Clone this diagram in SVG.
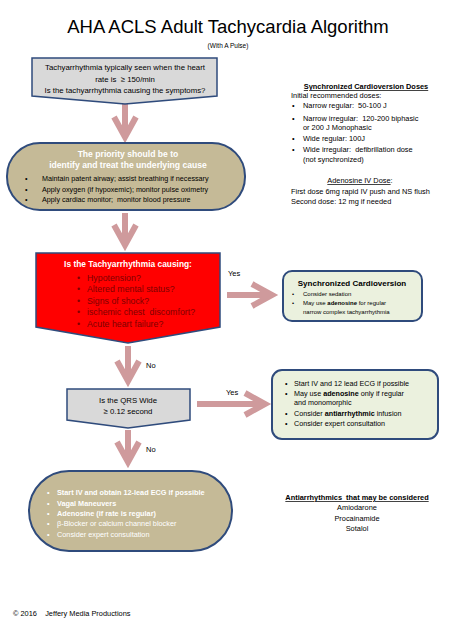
<svg xmlns="http://www.w3.org/2000/svg" width="474" height="632" viewBox="0 0 474 632">
<style>
text{font-family:"Liberation Sans",Arial,sans-serif;fill:#000;white-space:pre}
.c{text-anchor:middle}
.b{font-weight:bold}
.w{fill:#fff}
.dr{fill:#800000}
.u{text-decoration:underline}
.arr{fill:none;stroke:#cf9a9c;stroke-width:6;stroke-linejoin:miter}
.tan{fill:#c5ba97;stroke:#2f4b7c;stroke-width:2}
.grn{fill:#ebf1de;stroke:#2f4b7c;stroke-width:2}
.gry{fill:#d9d9d9;stroke:#2f4b7c;stroke-width:1.5}
</style>
<rect width="474" height="632" fill="#fff"/>
<text x="228" y="33" class="c" font-size="18.5">AHA ACLS Adult Tachycardia Algorithm</text>
<text x="228" y="48" class="c" font-size="6.5">(With A Pulse)</text>

<g id="connectors">
<path class="arr" d="M125 104V137M114 117L125 137L136 117"/>
<path class="arr" d="M125 213V245M114 225L125 245L136 225"/>
<path class="arr" d="M128 346V381M117 361L128 381L139 361"/>
<path class="arr" d="M128 430V462M117 442L128 462L139 442"/>
<path class="arr" d="M227 295H272M252 284L272 295L252 306"/>
<path class="arr" d="M197 404H265M245 393L265 404L245 415"/>
<text x="228" y="276" font-size="7.5">Yes</text>
<text x="146" y="368" font-size="7.5">No</text>
<text x="226" y="395" font-size="7.5">Yes</text>
<text x="146" y="452" font-size="7.5">No</text>
</g>

<g id="start">
<polygon class="gry" points="32,58 217,58 217,96 125,104 32,96"/>
<text x="125" y="70" class="c" font-size="7.8">Tachyarrhythmia typically seen when the heart</text>
<text x="125" y="82" class="c" font-size="7.8" xml:space="preserve">rate is  ≥ 150/min</text>
<text x="125" y="93" class="c" font-size="7.8">Is the tachyarrhythmia causing the symptoms?</text>
</g>

<g id="priority">
<rect class="tan" x="7" y="143" width="238" height="67" rx="33"/>
<text x="128" y="157" class="c b w" font-size="8.6">The priority should be to</text>
<text x="128" y="168" class="c b w" font-size="8.6">identify and treat the underlying cause</text>
<text x="25" y="181" font-size="7.2">•</text><text x="42" y="181" font-size="7.2">Maintain patent airway; assist breathing if necessary</text>
<text x="25" y="192" font-size="7.2">•</text><text x="42" y="192" font-size="7.2">Apply oxygen (if hypoxemic); monitor pulse oximetry</text>
<text x="25" y="202" font-size="7.2">•</text><text x="42" y="202" font-size="7.2" xml:space="preserve">Apply cardiac monitor;  monitor blood pressure</text>
</g>

<g id="causing">
<polygon points="36,253 220,253 220,327 128,343 36,327" fill="#ff0000" stroke="#2f4b7c" stroke-width="1.5"/>
<text x="128" y="267" class="c b w" font-size="8.4">Is the Tachyarrhythmia causing:</text>
<text x="77" y="281" class="dr" font-size="8.8">•</text><text x="87" y="281" class="dr" font-size="8.8">Hypotension?</text>
<text x="77" y="292" class="dr" font-size="8.8">•</text><text x="87" y="292" class="dr" font-size="8.8">Altered mental status?</text>
<text x="77" y="304" class="dr" font-size="8.8">•</text><text x="87" y="304" class="dr" font-size="8.8">Signs of shock?</text>
<text x="77" y="315" class="dr" font-size="8.8">•</text><text x="87" y="315" class="dr" font-size="8.8" xml:space="preserve">ischemic chest  discomfort?</text>
<text x="77" y="327" class="dr" font-size="8.8">•</text><text x="87" y="327" class="dr" font-size="8.8">Acute heart failure?</text>
</g>

<g id="sync">
<rect class="grn" x="283" y="271" width="139" height="50" rx="9"/>
<text x="352" y="286" class="c b" font-size="8">Synchronized Cardioversion</text>
<text x="292" y="296" font-size="6">•</text><text x="303" y="296" font-size="6">Consider sedation</text>
<text x="292" y="305" font-size="6">•</text><text x="303" y="305" font-size="6">May use <tspan class="b">adenosine</tspan> for regular</text>
<text x="303" y="314" font-size="6">narrow complex tachyarrhythmia</text>
</g>

<g id="qrs">
<polygon class="gry" points="67,389 190,389 190,420 128,428 67,420"/>
<text x="128" y="403" class="c" font-size="7.8">Is the QRS Wide</text>
<text x="128" y="414" class="c" font-size="7.8">≥ 0.12 second</text>
</g>

<g id="wide">
<rect class="grn" x="272" y="370" width="166" height="69" rx="10"/>
<text x="285" y="386" font-size="7.2">•</text><text x="294" y="386" font-size="7.2">Start IV and 12 lead ECG if possible</text>
<text x="285" y="396" font-size="7.2">•</text><text x="294" y="396" font-size="7.2">May use <tspan class="b">adenosine</tspan> only if regular</text>
<text x="294" y="405" font-size="7.2">and monomorphic</text>
<text x="285" y="416" font-size="7.2">•</text><text x="294" y="416" font-size="7.2">Consider <tspan class="b">antiarrhythmic</tspan> infusion</text>
<text x="285" y="426" font-size="7.2">•</text><text x="294" y="426" font-size="7.2">Consider expert consultation</text>
</g>

<g id="narrow">
<rect class="tan" x="29" y="471" width="203" height="80" rx="40"/>
<text x="47" y="495" class="w" font-size="7.3">•</text><text x="57" y="495" class="b w" font-size="7.3">Start IV and obtain 12-lead ECG if possible</text>
<text x="47" y="505.5" class="w" font-size="7.3">•</text><text x="57" y="505.5" class="b w" font-size="7.3">Vagal Maneuvers</text>
<text x="47" y="515.5" class="w" font-size="7.3">•</text><text x="57" y="515.5" class="b w" font-size="7.3">Adenosine (if rate is regular)</text>
<text x="47" y="526" class="w" font-size="7.3">•</text><text x="57" y="526" class="w" font-size="7.3">β-Blocker or calcium channel blocker</text>
<text x="47" y="536.5" class="w" font-size="7.3">•</text><text x="57" y="536.5" class="w" font-size="7.3">Consider expert consultation</text>
</g>

<g id="doses">
<text x="366" y="89" class="c b u" font-size="7.4">Synchronized Cardioversion Doses</text>
<text x="291" y="98" font-size="7.4">Initial recommended doses:</text>
<text x="292" y="108" font-size="7.4">•</text><text x="303" y="108" font-size="7.4" xml:space="preserve">Narrow regular:  50-100 J</text>
<text x="292" y="121" font-size="7.4">•</text><text x="303" y="121" font-size="7.4" xml:space="preserve">Narrow irregular:  120-200 biphasic</text>
<text x="303" y="130" font-size="7.4">or 200 J Monophasic</text>
<text x="292" y="141" font-size="7.4">•</text><text x="303" y="141" font-size="7.4">Wide regular: 100J</text>
<text x="292" y="152" font-size="7.4">•</text><text x="303" y="152" font-size="7.4" xml:space="preserve">Wide irregular:  defibrillation dose</text>
<text x="303" y="162" font-size="7.4">(not synchronized)</text>
<text x="360" y="183" class="c" font-size="7.4"><tspan class="u">Adenosine IV Dose</tspan>:</text>
<text x="291" y="194" font-size="7.4">First dose 6mg rapid IV push and NS flush</text>
<text x="291" y="204" font-size="7.4">Second dose: 12 mg if needed</text>
</g>

<g id="antiarrhythmics">
<text x="357" y="500" class="c b u" font-size="7.4" xml:space="preserve">Antiarrhythmics  that may be considered</text>
<text x="357" y="510" class="c" font-size="7.4">Amiodarone</text>
<text x="357" y="521" class="c" font-size="7.4">Procainamide</text>
<text x="357" y="531" class="c" font-size="7.4">Sotalol</text>
</g>

<text x="13" y="616" font-size="7.4" xml:space="preserve">© 2016    Jeffery Media Productions</text>
</svg>
